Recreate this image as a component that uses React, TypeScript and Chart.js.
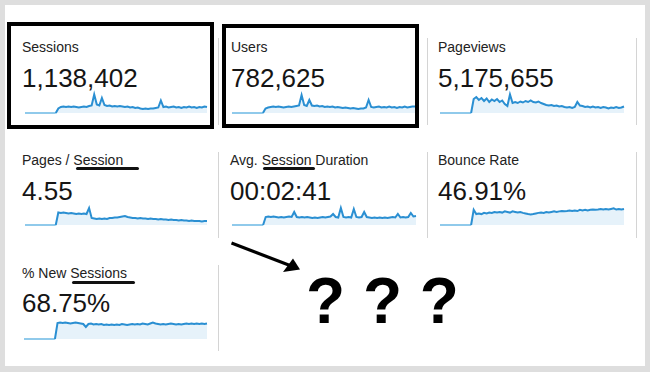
import React, { useEffect, useRef } from "react";
import { Chart, registerables } from "chart.js";

Chart.register(...registerables);

// ---- data (daily values; leading zeros = days before tracking started) ----
const SESSIONS = [
  0, 0, 0, 0, 0, 0, 0, 0, 0, 0, 0, 0, 0,
  2.25, 3, 3.25, 3, 3.25, 3, 3.25, 3, 2.75, 3,
  3.25, 3, 3.5, 3.75, 9.25, 4.25, 3.75, 7.5, 4, 3.5,
  3.75, 3.25, 3.5, 3.25, 3.5, 3.25, 3, 3.25, 2.75, 3,
  2.5, 2.75, 2.25, 2, 2.25, 2, 2.25, 2.25, 2.5, 2.75,
  6.25, 3, 3.25, 2.75, 3, 3.25, 2.75, 3, 2.5, 3,
  2.75, 3.25, 2.75, 3, 2.5, 3, 2.75, 3.25, 3,
];
const USERS = [
  0, 0, 0, 0, 0, 0, 0, 0, 0, 0, 0, 0, 0,
  1.8, 2.2, 2.4, 2.6, 2.4, 2.6, 2.4, 2.2, 2.4, 2.6,
  2.4, 2.6, 2.8, 3.0, 7.2, 3.2, 2.8, 5.2, 3.0, 2.8,
  3.0, 2.6, 2.8, 2.4, 2.6, 2.4, 2.6, 2.2, 2.4, 2.2,
  2.0, 2.2, 2.0, 1.8, 2.0, 1.8, 1.6, 1.8, 1.8, 2.2,
  5.2, 2.4, 2.2, 2.4, 2.6, 2.2, 2.4, 2.2, 2.6, 2.2,
  2.4, 2.0, 2.4, 2.2, 2.6, 2.2, 2.4, 2.6, 2.6,
];
const PAGEVIEWS = [
  0, 0, 0, 0, 0, 0, 0, 0, 0, 0, 0, 0, 0,
  28, 32, 26, 30, 24, 29, 22, 27, 24, 28,
  22, 25, 18, 14, 37, 20, 22, 20, 23, 21,
  24, 22, 25, 22, 21, 23, 20, 18, 16, 15,
  16, 14, 15, 13, 14, 12, 11, 12, 10, 12,
  22, 15, 14, 12, 13, 11, 13, 11, 12, 10,
  12, 11, 9, 11, 10, 12, 10, 11, 13,
];
const PAGES_PER_SESSION = [
  0, 0, 0, 0, 0, 0, 0, 0, 0, 0, 0, 0, 0,
  6.25, 6, 6.25, 6, 5.75, 6, 5.75, 5.5, 5.75, 5.5,
  5.75, 5.5, 8.5, 3.5, 3.25, 3, 3.25, 3, 3.25, 3,
  3.5, 3.5, 3.75, 3.75, 4, 4.25, 4.5, 4, 3.75, 3.5,
  3.5, 3.25, 3.5, 3.25, 3.25, 3, 3.25, 3, 3, 2.75,
  3, 2.75, 2.75, 2.5, 2.75, 2.5, 2.5, 2.25, 2.5, 2.25,
  2.25, 2, 2.25, 2, 2, 2, 1.75, 2, 2,
];
const AVG_SESSION_SECONDS = [
  0, 0, 0, 0, 0, 0, 0, 0, 0, 0, 0, 0, 0,
  160, 170, 160, 170, 160, 150, 160, 150, 160, 170,
  160, 260, 160, 150, 160, 150, 160, 150, 140, 150,
  140, 150, 160, 150, 160, 170, 220, 160, 150, 340,
  160, 150, 160, 150, 320, 160, 150, 160, 260, 160,
  150, 140, 150, 140, 150, 140, 150, 140, 150, 160,
  150, 220, 150, 160, 150, 160, 240, 170, 180,
];
const BOUNCE_RATE = [
  0, 0, 0, 0, 0, 0, 0, 0, 0, 0, 0, 0, 0,
  50, 36, 38, 36, 40, 38, 41, 40, 43, 41,
  43, 41, 45, 43, 41, 45, 43, 41, 43, 40,
  38, 36, 35, 36, 38, 40, 41, 40, 43, 41,
  43, 45, 43, 45, 46, 45, 46, 48, 46, 48,
  46, 50, 48, 50, 48, 50, 51, 50, 51, 53,
  51, 53, 51, 53, 55, 51, 53, 51, 53,
];
const NEW_SESSIONS_PCT = [
  0, 0, 0, 0, 0, 0, 0, 0, 0, 0, 0, 0, 0,
  71.1, 73.3, 71.1, 73.3, 71.1, 68.8, 71.1, 73.3, 71.1, 68.8,
  66.7, 53.3, 66.7, 68.8, 64.4, 66.7, 64.4, 66.7, 62.2, 64.4,
  62.2, 64.4, 62.2, 64.4, 62.2, 66.7, 64.4, 62.2, 64.4, 66.7,
  64.4, 66.7, 64.4, 68.8, 66.7, 64.4, 68.8, 73.3, 68.8, 66.7,
  64.4, 66.7, 64.4, 66.7, 68.8, 66.7, 64.4, 66.7, 64.4, 66.7,
  68.8, 66.7, 68.8, 66.7, 68.8, 66.7, 68.8, 66.7, 68.8,
];

const METRIC_LABELS = [
  "Sessions",
  "Users",
  "Pageviews",
  "Pages / Session",
  "Avg. Session Duration",
  "Bounce Rate",
  "% New Sessions",
];
const METRIC_TOTALS = [
  "1,138,402",
  "782,625",
  "5,175,655",
  "4.55",
  "00:02:41",
  "46.91%",
  "68.75%",
];
const SERIES = [
  SESSIONS,
  USERS,
  PAGEVIEWS,
  PAGES_PER_SESSION,
  AVG_SESSION_SECONDS,
  BOUNCE_RATE,
  NEW_SESSIONS_PCT,
];
const SCALE_MAX = [10, 8, 44, 9, 360, 66, 80];

// ---- layout / styles ----
const FONT = '"Liberation Sans", Arial, Helvetica, sans-serif';
const LINE = "#2a8fd2";
const FLAT = "#74bde6";
const FILL = "#e6f2fa";

// chart area per tile: x0, x1, zeroY, height
const SPARK_GEOM = [
  [25, 207, 113, 20],
  [232, 415, 113, 20],
  [440, 624, 113, 22],
  [25, 207, 225, 18],
  [232, 416, 225, 18],
  [440, 624, 225, 20],
  [24, 207, 339, 18],
];
const TEXT_POS = [
  [22, 52, 87],
  [231, 52, 87],
  [438, 52, 87],
  [22, 165, 200],
  [230, 165, 200],
  [438, 165, 200],
  [22, 278, 312],
];

function Spark({ values, max, geom }: { values: number[]; max: number; geom: number[] }) {
  const ref = useRef<HTMLCanvasElement | null>(null);
  const [x0, x1, zeroY, h] = geom;
  const left = x0 - 2;
  const top = zeroY - h - 3;
  const width = x1 - x0 + 4;
  const height = h + 5;
  useEffect(() => {
    if (!ref.current) return;
    const chart = new Chart(ref.current, {
      type: "line",
      data: {
        labels: values.map((_, i) => String(i)),
        datasets: [
          {
            data: values,
            borderColor: LINE,
            backgroundColor: FILL,
            fill: "origin",
            borderWidth: 2,
            pointRadius: 0,
            tension: 0,
            clip: 5,
            segment: {
              borderColor: (c: any) =>
                c.p0.parsed.y === 0 && c.p1.parsed.y === 0 ? FLAT : undefined,
              borderWidth: (c: any) =>
                c.p0.parsed.y === 0 && c.p1.parsed.y === 0 ? 1.6 : undefined,
            },
          } as any,
        ],
      },
      options: {
        animation: false,
        responsive: false,
        maintainAspectRatio: false,
        events: [],
        layout: { padding: { top: 3, bottom: 2, left: 2, right: 2 } },
        plugins: { legend: { display: false }, tooltip: { enabled: false } },
        scales: {
          x: { display: false, offset: false },
          y: { display: false, min: 0, max },
        },
      },
    });
    return () => chart.destroy();
  }, []);
  return (
    <canvas
      ref={ref}
      width={width}
      height={height}
      style={{ position: "absolute", left, top, width, height }}
    />
  );
}

const abs = (s: React.CSSProperties): React.CSSProperties => ({ position: "absolute", ...s });

export default function App() {
  const tiles = METRIC_LABELS.map((label, i) => {
    const [tx, lb, vb] = TEXT_POS[i];
    return (
      <React.Fragment key={label}>
        <div
          style={abs({
            left: tx,
            top: lb - 0.8465 * 14,
            fontSize: 14,
            lineHeight: "14px",
            fontFamily: FONT,
            color: "#222",
            whiteSpace: "nowrap",
          })}
        >
          {label}
        </div>
        <div
          style={abs({
            left: tx,
            top: vb - 0.8465 * 26,
            fontSize: 26,
            lineHeight: "26px",
            fontFamily: FONT,
            color: "#151515",
            whiteSpace: "nowrap",
          })}
        >
          {METRIC_TOTALS[i]}
        </div>
        <Spark values={SERIES[i]} max={SCALE_MAX[i]} geom={SPARK_GEOM[i]} />
      </React.Fragment>
    );
  });

  const vline = (x: number, y0: number, y1: number) => (
    <div key={`${x}-${y0}`} style={abs({ left: x, top: y0, width: 1, height: y1 - y0, background: "#d4d4d4" })} />
  );
  const underline = (x0: number, x1: number, y: number) => (
    <div
      key={`u${x0}-${y}`}
      style={abs({ left: x0, top: y - 1.5, width: x1 - x0, height: 3, background: "#111", borderRadius: 1.5 })}
    />
  );

  return (
    <div style={{ position: "fixed", left: 0, top: 0, width: 650, height: 372, background: "#dedede", overflow: "hidden" }}>
      <div style={abs({ left: 5, top: 5, width: 640, height: 361, background: "#fff" })} />
      {vline(218, 38, 125)}
      {vline(427, 38, 125)}
      {vline(636, 38, 125)}
      {vline(218, 152, 238)}
      {vline(427, 152, 238)}
      {vline(636, 152, 238)}
      {vline(218, 265, 351)}
      {tiles}
      {underline(76, 139, 168)}
      {underline(263, 315, 168)}
      {underline(72, 135, 282)}
      <div style={abs({ left: 7, top: 22, width: 207, height: 107, border: "4px solid #000", boxSizing: "border-box" })} />
      <div style={abs({ left: 222, top: 24, width: 197, height: 104, border: "4px solid #000", boxSizing: "border-box" })} />
      <svg width={650} height={372} style={abs({ left: 0, top: 0 })}>
        <line x1={231.5} y1={243} x2={290} y2={265.5} stroke="#000" strokeWidth={3} />
        <polygon points="300,269.5 283,272 293,258.5" fill="#000" />
      </svg>
      <div
        style={abs({
          left: 306,
          top: 323 - 0.8465 * 64,
          fontSize: 64,
          lineHeight: "64px",
          fontWeight: 700,
          fontFamily: FONT,
          color: "#000",
          whiteSpace: "pre",
        })}
      >
        {"? ? ?"}
      </div>
    </div>
  );
}
